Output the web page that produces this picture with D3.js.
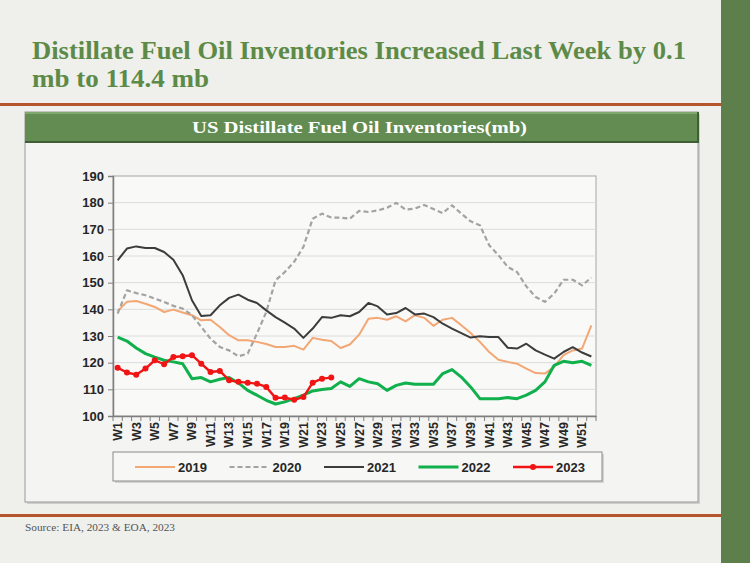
<!DOCTYPE html>
<html>
<head>
<meta charset="utf-8">
<script src="https://cdn.jsdelivr.net/npm/d3@7"></script>
<style>
  body { margin: 0; background: #eeeeeb; }
  svg { display: block; }
</style>
</head>
<body>
<div id="slide"></div>
<script>
// weekly inventories, million barrels

const years = ["2019", "2020", "2021", "2022", "2023"];

const v2019 = [139.4, 142.8, 143.1, 142.1, 140.9, 139.0, 139.9, 138.8, 137.8, 135.9,
    136.1, 133.4, 130.3, 128.4, 128.4, 127.8, 127.0, 125.9, 125.9, 126.3,
    124.9, 129.3, 128.6, 128.1, 125.5, 126.8, 130.5, 136.5, 136.8, 136.1,
    137.4, 135.5, 137.8, 136.8, 133.8, 136.1, 136.8, 134.0, 131.1, 127.8,
    124.0, 121.1, 120.3, 119.6, 117.8, 116.1, 115.9, 118.4, 122.8, 124.6,
    125.3, 134.0];

const v2020 = [138.4, 147.1, 146.1, 145.3, 144.0, 142.8, 141.3, 140.3, 137.8, 133.4,
    129.0, 125.9, 124.6, 122.4, 123.4, 130.9, 139.0, 150.9, 154.0, 157.8,
    163.4, 174.0, 175.9, 174.4, 174.4, 174.0, 176.9, 176.5, 177.1, 178.1,
    179.9, 177.4, 177.8, 179.1, 177.6, 176.1, 179.0, 175.9, 173.0, 171.5,
    164.0, 160.3, 155.9, 154.0, 148.6, 144.6, 142.8, 145.9, 151.1, 151.1,
    149.0, 151.9];

const v2021 = [158.4, 162.8, 163.6, 163.0, 163.0, 161.5, 158.6, 152.8, 143.4, 137.5,
    137.8, 141.5, 144.3, 145.5, 143.6, 142.4, 139.6, 137.1, 135.0, 132.8,
    129.3, 132.8, 137.1, 136.8, 137.8, 137.4, 139.0, 142.4, 141.1, 138.1,
    138.6, 140.5, 138.1, 138.4, 137.1, 134.6, 132.8, 131.1, 129.4, 129.9,
    129.6, 129.6, 125.6, 125.3, 127.1, 124.6, 123.0, 121.5, 124.0, 125.8,
    123.8, 122.3];

const v2022 = [129.6, 128.1, 125.5, 123.4, 122.1, 120.9, 120.3, 119.6, 114.0, 114.4,
    112.8, 113.8, 114.4, 112.4, 109.6, 107.8, 105.9, 104.5, 105.3, 106.5,
    107.8, 109.4, 109.9, 110.3, 112.8, 111.1, 114.0, 112.8, 112.1, 109.6,
    111.5, 112.4, 111.9, 111.9, 111.9, 115.9, 117.4, 114.6, 110.9, 106.5,
    106.5, 106.5, 106.9, 106.5, 107.8, 109.6, 112.8, 119.0, 120.5, 120.0,
    120.5, 119.0];

const v2023 = [118.1, 116.3, 115.5, 117.8, 120.9, 119.4, 122.1, 122.4, 122.8, 119.6,
    116.5, 116.9, 113.4, 112.8, 112.5, 112.1, 110.9, 106.8, 106.9, 106.1,
    107.1, 112.5, 114.0, 114.4];

const weeks = d3.range(1, 53).map(n => "W" + n);
const yTicks = [100, 110, 120, 130, 140, 150, 160, 170, 180, 190];

const seriesStyle = [
    { color: "#f2a774", width: 2, dash: null, dots: false },  // 2019
    { color: "#a3a3a3", width: 2.2, dash: "5,3", dots: false }, // 2020
    { color: "#3c3c3c", width: 2, dash: null, dots: false },  // 2021
    { color: "#10b04c", width: 3, dash: null, dots: false },  // 2022
    { color: "#f01414", width: 2.4, dash: null, dots: true }  // 2023
];

const seriesValues = [v2019, v2020, v2021, v2022, v2023];

function drawSlide() {
    const W = 750, H = 563;

    let svg = d3.select("#slide").
    append("svg").
    attr("width", W).
    attr("height", H);

    // slide background + side bar
    svg.append("rect").attr("width", W).attr("height", H).attr("fill", "#efefec");
    svg.append("rect").attr("x", 721).attr("y", 0).attr("width", 29).attr("height", H).attr("fill", "#5c7f4c");

    // title
    let title = svg.append("g").
    attr("fill", "#5d8b47").
    style("font-family", "'Liberation Serif', serif").
    style("font-weight", "bold").
    style("font-size", "25px");

    title.append("text").
    attr("x", 32).attr("y", 59).
    attr("textLength", 654).attr("lengthAdjust", "spacingAndGlyphs").
    text("Distillate Fuel Oil Inventories Increased Last Week by 0.1");

    title.append("text").
    attr("x", 32).attr("y", 87).
    attr("textLength", 177).attr("lengthAdjust", "spacingAndGlyphs").
    text("mb to 114.4 mb");

    // brown rules
    svg.append("rect").attr("x", 0).attr("y", 103).attr("width", 722).attr("height", 3).attr("fill", "#b4552e");
    svg.append("rect").attr("x", 0).attr("y", 514).attr("width", 722).attr("height", 3).attr("fill", "#b4552e");

    // chart box
    svg.append("rect").attr("x", 27).attr("y", 114).attr("width", 673).attr("height", 390).attr("fill", "#cfcfcf");
    svg.append("rect").attr("x", 25).attr("y", 112).attr("width", 673).attr("height", 390).
    attr("fill", "#f4f4f2").attr("stroke", "#9a9a9a").attr("stroke-width", 1);

    // header bar
    svg.append("rect").attr("x", 25).attr("y", 112).attr("width", 674).attr("height", 31).attr("fill", "#3f5e36");
    svg.append("rect").attr("x", 25).attr("y", 112).attr("width", 672).attr("height", 29).attr("fill", "#628c51");
    svg.append("rect").attr("x", 25).attr("y", 112).attr("width", 672).attr("height", 2).attr("fill", "#7fa86e");

    svg.append("text").
    attr("x", 192).attr("y", 133).
    attr("textLength", 335).attr("lengthAdjust", "spacingAndGlyphs").
    attr("fill", "#ffffff").
    style("font-family", "'Liberation Serif', serif").
    style("font-weight", "bold").
    style("font-size", "16px").
    text("US Distillate Fuel Oil Inventories(mb)");

    // plot area
    let margin = { left: 113, top: 176 };
    let width = 483, height = 240;

    let g = svg.append("g").
    attr("transform", "translate(" + margin.left + "," + margin.top + ")");

    let xScale = d3.scaleBand().
    domain(weeks).
    range([0, width]);

    let yScale = d3.scaleLinear().
    domain([100, 190]).
    range([height, 0]);

    let xPos = i => xScale(weeks[i]) + xScale.bandwidth() / 2;

    g.append("rect").
    attr("width", width).attr("height", height).
    attr("fill", "#f9f9f8").
    attr("stroke", "#a6a6a6").attr("stroke-width", 1);

    // gridlines
    g.selectAll(".grid").
    data(yTicks.slice(1, -1)).
    enter().
    append("line").
    attr("x1", 0).attr("x2", width).
    attr("y1", d => yScale(d)).attr("y2", d => yScale(d)).
    attr("stroke", "#dcdcdc").attr("stroke-width", 1);

    // y axis
    let yAxis = g.append("g").
    call(d3.axisLeft(yScale).tickValues(yTicks).tickSize(5).tickPadding(4));
    yAxis.select(".domain").attr("stroke", "#7f7f7f").attr("stroke-width", 1.5);
    yAxis.selectAll(".tick line").attr("stroke", "#7f7f7f");
    yAxis.selectAll("text").
    attr("fill", "#262626").
    style("font-family", "'Liberation Sans', Arial, sans-serif").
    style("font-weight", "bold").
    style("font-size", "13px");

    // x axis, labels every other week
    let xAxis = g.append("g").
    attr("transform", "translate(0," + height + ")").
    call(d3.axisBottom(xScale).
    tickFormat((d, i) => i % 2 === 0 ? d : "").
    tickSize(0).tickPadding(0).tickSizeOuter(0));
    xAxis.select(".domain").attr("stroke", "#7f7f7f").attr("stroke-width", 1.5);
    xAxis.selectAll("text").
    attr("transform", "rotate(-90)").
    attr("x", -6).
    attr("y", 0).
    attr("dy", "0.35em").
    style("text-anchor", "end").
    attr("fill", "#262626").
    style("font-family", "'Liberation Sans', Arial, sans-serif").
    style("font-weight", "bold").
    style("font-size", "12.5px");

    // category boundary ticks
    g.selectAll(".xtick").
    data(weeks.concat(["end"])).
    enter().
    append("line").
    attr("x1", d => d === "end" ? width : xScale(d)).
    attr("x2", d => d === "end" ? width : xScale(d)).
    attr("y1", height).attr("y2", height + 5).
    attr("stroke", "#7f7f7f").attr("stroke-width", 1);

    // series
    let line = d3.line().
    x((d, i) => xPos(i)).
    y(d => yScale(d));

    seriesValues.forEach((vals, k) => {
        let st = seriesStyle[k];
        g.append("path").
        datum(vals).
        attr("d", line).
        attr("fill", "none").
        attr("stroke", st.color).
        attr("stroke-width", st.width).
        attr("stroke-dasharray", st.dash).
        attr("stroke-linejoin", "round");

        if (st.dots) {
            g.selectAll(".dot" + k).
            data(vals).
            enter().
            append("circle").
            attr("cx", (d, i) => xPos(i)).
            attr("cy", d => yScale(d)).
            attr("r", 3).
            attr("fill", st.color);
        }
    });

    // legend
    svg.append("rect").attr("x", 115).attr("y", 454).attr("width", 489).attr("height", 29).attr("fill", "#d4d4d4");
    svg.append("rect").attr("x", 113).attr("y", 452).attr("width", 489).attr("height", 29).
    attr("fill", "#f7f7f6").attr("stroke", "#8a8a8a").attr("stroke-width", 1);

    let legend = svg.selectAll(".legend").
    data(years).
    enter().
    append("g").
    attr("transform", (d, i) => "translate(" + (135 + i * 94.5) + ",467)");

    legend.append("line").
    attr("x1", 0).attr("x2", 40).
    attr("y1", 0).attr("y2", 0).
    attr("stroke", (d, i) => seriesStyle[i].color).
    attr("stroke-width", (d, i) => seriesStyle[i].width).
    attr("stroke-dasharray", (d, i) => seriesStyle[i].dash);

    legend.filter((d, i) => seriesStyle[i].dots).
    append("circle").
    attr("cx", 20).attr("cy", 0).attr("r", 3).
    attr("fill", seriesStyle[4].color);

    legend.append("text").
    attr("x", 43).attr("y", 0).attr("dy", "0.35em").
    attr("fill", "#262626").
    style("font-family", "'Liberation Sans', Arial, sans-serif").
    style("font-weight", "bold").
    style("font-size", "13px").
    text(d => d);

    // source
    svg.append("text").
    attr("x", 25).attr("y", 531).
    attr("textLength", 150).attr("lengthAdjust", "spacingAndGlyphs").
    attr("fill", "#555555").
    style("font-family", "'Liberation Serif', serif").
    style("font-size", "10px").
    text("Source: EIA, 2023 & EOA, 2023");
}

drawSlide();
</script>
</body>
</html>
